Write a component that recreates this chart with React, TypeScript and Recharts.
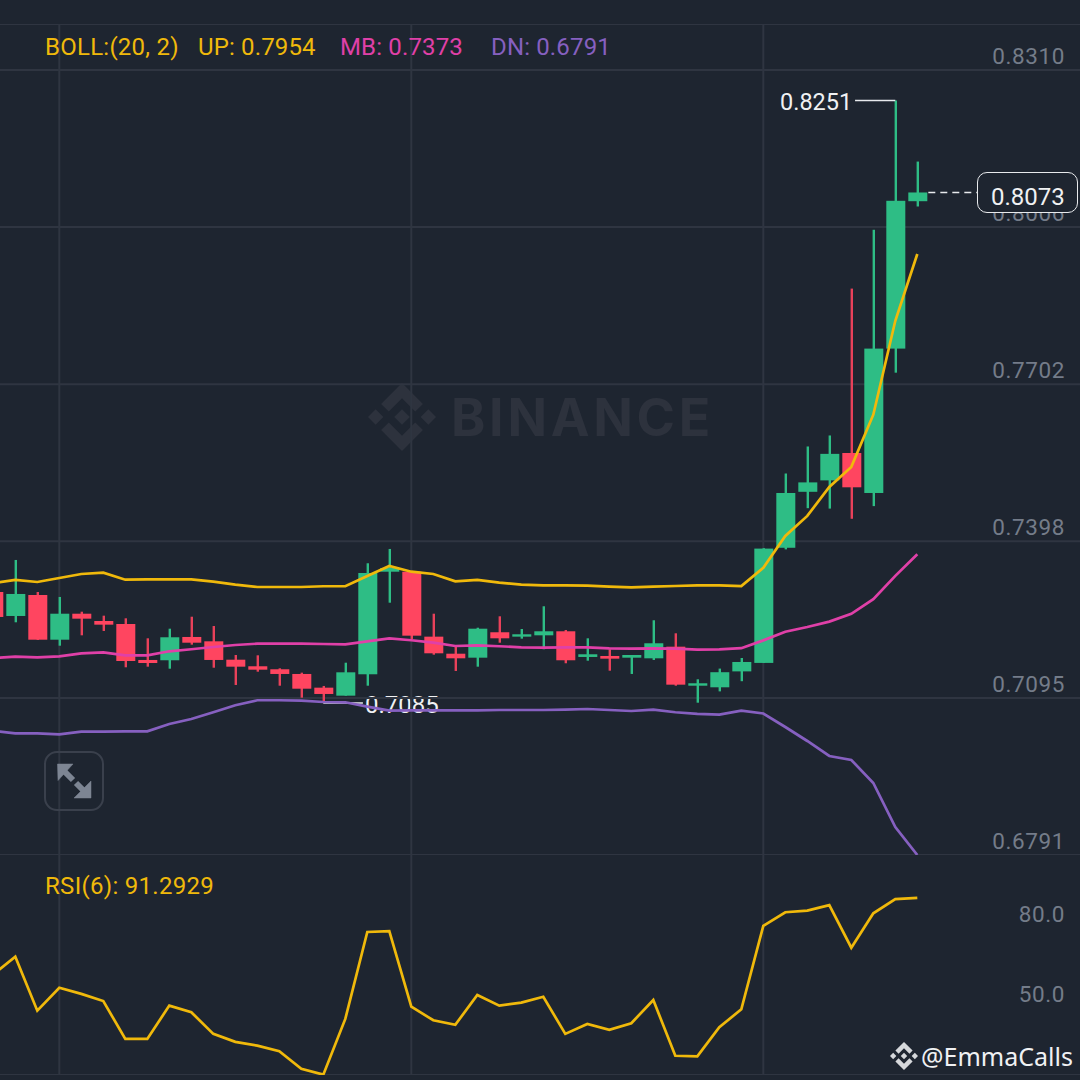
import { Bar, CartesianGrid, ComposedChart, Line, ReferenceLine, XAxis, YAxis } from 'recharts'

const BG = '#1e2530'
const GRID = '#2f3541'
const UP = '#2ebd85'
const DOWN = '#ff4560'
const TICK = '#747c89'
const YELLOW = '#f0b90b'
const PINK = '#e040a8'
const PURPLE = '#8660c0'
const FONT = 'Roboto, sans-serif'

const opens = [
  0.72999, 0.72535, 0.72941, 0.72076, 0.72579, 0.72438, 0.7238, 0.71684, 0.71678, 0.72129, 0.72045,
  0.71689, 0.71562, 0.71504, 0.71413, 0.71148, 0.70993, 0.71407, 0.73392, 0.73392, 0.72135, 0.71805,
  0.71728, 0.7222, 0.72135, 0.72161, 0.72239, 0.71742, 0.71761, 0.71728, 0.71716, 0.71941, 0.71186,
  0.71155, 0.71463, 0.71627, 0.73855, 0.74938, 0.75159, 0.75689, 0.74915, 0.77709, 0.80561,
]
const closes = [
  0.72516, 0.72961, 0.72076, 0.72579, 0.72483, 0.72367, 0.71664, 0.71625, 0.72123, 0.72018, 0.71684,
  0.71554, 0.71496, 0.71413, 0.71128, 0.71026, 0.71445, 0.73367, 0.73464, 0.72154, 0.71813, 0.71716,
  0.72289, 0.72103, 0.72181, 0.72239, 0.71678, 0.71794, 0.71709, 0.7178, 0.72007, 0.71206, 0.71233,
  0.71447, 0.71645, 0.73839, 0.74915, 0.7512, 0.75672, 0.75025, 0.77709, 0.80569, 0.8073,
]
const highs = [
  0.73001, 0.73619, 0.72999, 0.72903, 0.72618, 0.72541, 0.7249, 0.72103, 0.72289, 0.72521, 0.72341,
  0.7178, 0.71774, 0.71523, 0.71438, 0.71181, 0.71631, 0.73555, 0.73832, 0.73392, 0.72579, 0.71954,
  0.72308, 0.72529, 0.72283, 0.72723, 0.72264, 0.72103, 0.71891, 0.7178, 0.72452, 0.722, 0.7131,
  0.71517, 0.71722, 0.73847, 0.75292, 0.75815, 0.76028, 0.7887, 0.80008, 0.8251, 0.81328,
]
const lows = [
  0.72514, 0.72413, 0.72071, 0.7196, 0.72161, 0.72245, 0.71542, 0.71554, 0.71515, 0.7198, 0.71534,
  0.712, 0.71457, 0.71186, 0.70954, 0.7085, 0.70993, 0.71186, 0.72792, 0.7209, 0.71786, 0.71471,
  0.71554, 0.72018, 0.72096, 0.71891, 0.7162, 0.7167, 0.71476, 0.71413, 0.71684, 0.71186, 0.70857,
  0.71076, 0.71273, 0.71627, 0.73824, 0.74621, 0.74613, 0.74416, 0.74661, 0.77243, 0.80459,
]

const bollUp = [
  0.73173, 0.73232, 0.73193, 0.7327, 0.73348, 0.73373, 0.73237, 0.73245, 0.73245, 0.73245, 0.73199,
  0.73141, 0.73096, 0.73096, 0.73096, 0.7311, 0.7311, 0.73309, 0.73502, 0.73392, 0.73348, 0.73206,
  0.73232, 0.73179, 0.73141, 0.73129, 0.73129, 0.73121, 0.73102, 0.7309, 0.73102, 0.73115, 0.73129,
  0.73129, 0.73113, 0.73468, 0.74085, 0.74472, 0.75033, 0.7542, 0.7643, 0.78247, 0.7954,
]
const bollMid = [
  0.71722, 0.71747, 0.71736, 0.71755, 0.71813, 0.71832, 0.71774, 0.71774, 0.71852, 0.71891, 0.71935,
  0.71974, 0.71999, 0.71999, 0.71999, 0.71993, 0.71987, 0.72045, 0.72103, 0.72065, 0.72018, 0.71954,
  0.71968, 0.71949, 0.71929, 0.71922, 0.71929, 0.71929, 0.7191, 0.71902, 0.7191, 0.71902, 0.71883,
  0.71888, 0.71912, 0.72063, 0.72229, 0.72322, 0.72426, 0.72576, 0.7286, 0.73311, 0.7373,
]
const bollDown = [
  0.7031, 0.70265, 0.70265, 0.70246, 0.70296, 0.70296, 0.70304, 0.70304, 0.70445, 0.70542, 0.70672,
  0.70807, 0.70904, 0.70904, 0.70896, 0.70871, 0.70865, 0.7078, 0.70703, 0.7071, 0.7071, 0.7071,
  0.7071, 0.70716, 0.70716, 0.70716, 0.70722, 0.70735, 0.70716, 0.70696, 0.70722, 0.70672, 0.70639,
  0.70625, 0.70704, 0.70648, 0.70387, 0.70116, 0.69826, 0.69749, 0.69304, 0.68452, 0.6791,
]
const rsi = [
  62.6, 69.2, 49.0, 57.6, 55.3, 52.6, 38.4, 38.4, 50.9, 48.4, 40.3, 37.3, 35.9, 33.8, 27.2, 25.0, 45.9,
  78.5, 78.8, 50.5, 45.4, 43.7, 54.9, 50.9, 52.0, 54.2, 40.3, 44.0, 41.8, 44.3, 53.0, 32.1, 31.9, 42.8,
  49.5, 80.8, 85.9, 86.5, 88.6, 72.6, 85.5, 90.8, 91.29,
]

const priceTicks = [0.6791, 0.7095, 0.7398, 0.7702, 0.8006, 0.831]
const priceTop = 0.8399
const rsiTicks = [50, 80]
const rsiDomain = [24.875, 107.375]
const gridTimes = [3, 19, 35]
const xDomain = [0.3045, 49.395]

const candles = opens.map((open, i) => ({
  t: i,
  open,
  close: closes[i],
  high: highs[i],
  low: lows[i],
  up: bollUp[i],
  mid: bollMid[i],
  down: bollDown[i],
}))
const rsiRows = rsi.map((value, i) => ({ t: i, value }))

function Candle(props: any) {
  const { x, y, width, height, payload } = props
  const { open, close, high, low } = payload
  const perUnit = height / (high - low)
  const top = y + (high - Math.max(open, close)) * perUnit
  const bodyHeight = Math.max(Math.abs(open - close) * perUnit, 1)
  const isUp = close >= open
  const cx = x + width / 2
  return (
    <g>
      <rect x={cx - 1.2} y={y} width={2.4} height={height} fill={isUp ? UP : '#e8415a'} />
      <rect x={x} y={top} width={width} height={bodyHeight} fill={isUp ? UP : DOWN} />
    </g>
  )
}

function AxisTick(props: any) {
  const { y, payload, digits } = props
  return (
    <text x={1065} y={y - 6} textAnchor="end" fill={TICK} fontSize={22.5} fontFamily={FONT} letterSpacing={0.6}>
      {payload.value.toFixed(digits)}
    </text>
  )
}

function BinanceLogo({ x, y, size, color }: { x: number; y: number; size: number; color: string }) {
  return (
    <svg style={{ position: 'absolute', left: x, top: y }} width={size} height={size} viewBox="0 0 126.61 126.61">
      <g fill={color}>
        <path d="M38.73 53.2L63.32 28.61 87.92 53.21 102.22 38.9 63.32 0 24.42 38.9z" />
        <path d="M0 63.31L14.31 49 28.61 63.31 14.3 77.61z" />
        <path d="M38.73 73.41L63.32 98 87.92 73.4 102.23 87.7 63.32 126.61 24.42 87.71z" />
        <path d="M98 63.31L112.3 49 126.61 63.3 112.3 77.61z" />
        <path d="M77.83 63.3L63.32 48.78 48.82 63.27 63.32 77.83z" />
      </g>
    </svg>
  )
}

const legendStyle = { position: 'absolute', top: 33, fontSize: 24, fontFamily: FONT, whiteSpace: 'nowrap' } as const

export default function App() {
  return (
    <div style={{ position: 'fixed', left: 0, top: 0, width: 1080, height: 1080, background: BG, overflow: 'hidden' }}>
      <BinanceLogo x={368} y={383} size={68} color="#2d323d" />
      <div
        style={{
          position: 'absolute',
          left: 451,
          top: 385.5,
          fontFamily: 'Inter, sans-serif',
          fontWeight: 700,
          fontSize: 52,
          letterSpacing: 3.7,
          color: '#2d323d',
        }}
      >
        BINANCE
      </div>
      <span style={{ ...legendStyle, left: 365, top: 691, color: '#f0f1f3' }}>0.7085</span>

      <div style={{ position: 'absolute', left: 0, top: 24 }}>
        <ComposedChart width={1080} height={831} data={candles} margin={{ top: 0, right: 0, bottom: 0, left: 0 }}>
          <CartesianGrid
            stroke={GRID}
            strokeWidth={2}
            horizontalValues={[...priceTicks, priceTop]}
            verticalValues={gridTimes}
          />
          <XAxis type="number" dataKey="t" domain={xDomain} allowDataOverflow hide />
          <YAxis
            orientation="right"
            mirror
            domain={[0.6791, priceTop]}
            ticks={priceTicks}
            interval={0}
            axisLine={false}
            tickLine={false}
            tick={<AxisTick digits={4} />}
            allowDataOverflow
          />
          <ReferenceLine
            segment={[{ x: 15, y: 0.7085 }, { x: 16.8, y: 0.7085 }]}
            stroke="#e8eaed"
            strokeWidth={1.5}
          />
          <ReferenceLine
            segment={[{ x: 39.17, y: 0.8251 }, { x: 41, y: 0.8251 }]}
            stroke="#e8eaed"
            strokeWidth={1.5}
          />
          <ReferenceLine
            segment={[{ x: 42.5, y: 0.8073 }, { x: 44.8, y: 0.8073 }]}
            stroke="#e8eaed"
            strokeWidth={1.5}
            strokeDasharray="7 5"
          />
          <Bar
            dataKey={(d: any) => [d.low, d.high]}
            barSize={19}
            shape={<Candle />}
            isAnimationActive={false}
          />
          <Line dataKey="down" stroke={PURPLE} strokeWidth={2.7} dot={false} type="linear" isAnimationActive={false} />
          <Line dataKey="mid" stroke={PINK} strokeWidth={2.7} dot={false} type="linear" isAnimationActive={false} />
          <Line dataKey="up" stroke={YELLOW} strokeWidth={2.7} dot={false} type="linear" isAnimationActive={false} />
        </ComposedChart>
      </div>

      <div style={{ position: 'absolute', left: 0, top: 855 }}>
        <ComposedChart width={1080} height={220} data={rsiRows} margin={{ top: 0, right: 0, bottom: 0, left: 0 }}>
          <CartesianGrid stroke={GRID} strokeWidth={2} horizontalValues={[rsiDomain[0]]} verticalValues={gridTimes} />
          <XAxis type="number" dataKey="t" domain={xDomain} allowDataOverflow hide />
          <YAxis
            orientation="right"
            mirror
            domain={rsiDomain}
            ticks={rsiTicks}
            interval={0}
            axisLine={false}
            tickLine={false}
            tick={<AxisTick digits={1} />}
            allowDataOverflow
          />
          <Line dataKey="value" stroke={YELLOW} strokeWidth={2.7} dot={false} type="linear" isAnimationActive={false} />
        </ComposedChart>
      </div>

      <span style={{ ...legendStyle, left: 45, color: YELLOW, letterSpacing: 0.25 }}>BOLL:(20, 2)</span>
      <span style={{ ...legendStyle, left: 198, color: YELLOW, letterSpacing: 0.15 }}>UP: 0.7954</span>
      <span style={{ ...legendStyle, left: 340, color: PINK, letterSpacing: 0.15 }}>MB: 0.7373</span>
      <span style={{ ...legendStyle, left: 491, color: PURPLE, letterSpacing: 0.15 }}>DN: 0.6791</span>
      <span style={{ ...legendStyle, left: 45, top: 872, color: YELLOW, letterSpacing: 0.3 }}>RSI(6): 91.2929</span>

      <span style={{ ...legendStyle, left: 780, top: 88, fontSize: 23.5, color: '#f0f1f3' }}>0.8251</span>

      <div
        style={{
          position: 'absolute',
          left: 977,
          top: 172,
          width: 99,
          height: 39,
          border: '1.5px solid #e8eaed',
          borderRadius: 10,
          background: BG,
        }}
      />
      <span style={{ ...legendStyle, left: 991, top: 183, color: '#f0f1f3' }}>0.8073</span>

      <svg style={{ position: 'absolute', left: 44, top: 751 }} width={60} height={60} viewBox="0 0 60 60">
        <rect x={1} y={1} width={58} height={58} rx={12} fill="none" stroke="#3a404c" strokeWidth={2} />
        <g fill="#7d8593" stroke="#7d8593">
          <path d="M20 20L29 29" strokeWidth={6} />
          <path d="M13.5 13H29L14 29.5z" strokeWidth={0.5} />
          <path d="M40 40L32 32" strokeWidth={6} />
          <path d="M47 47H30L47 30z" strokeWidth={0.5} />
        </g>
      </svg>

      <BinanceLogo x={890} y={1042} size={28} color="#d6d8db" />
      <span
        style={{
          ...legendStyle,
          left: 921,
          top: 1039,
          fontSize: 25,
          color: '#f0f1f3',
          fontFamily: '"Noto Sans", sans-serif',
        }}
      >
        @EmmaCalls
      </span>
    </div>
  )
}
